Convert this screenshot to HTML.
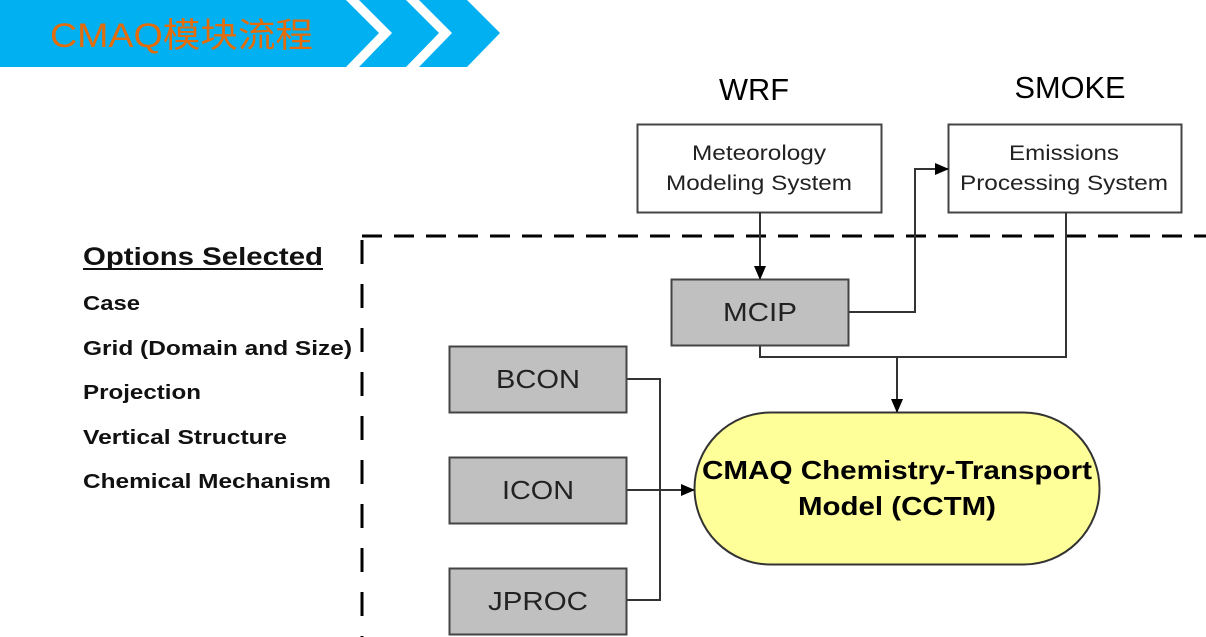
<!DOCTYPE html>
<html><head><meta charset="utf-8"><style>
body{margin:0;width:1206px;height:637px;background:#fff;overflow:hidden}
svg{display:block}
text{font-family:"Liberation Sans",Arial,sans-serif}
.cjk{font-family:"Liberation Sans","Noto Sans CJK SC",sans-serif}
</style></head><body>
<svg width="1206" height="637" viewBox="0 0 1206 637" xmlns="http://www.w3.org/2000/svg">
<defs><marker id="a" markerWidth="14" markerHeight="12" refX="13" refY="6" orient="auto" markerUnits="userSpaceOnUse"><path d="M0,0 L14,6 L0,12 Z" fill="#000"/></marker></defs>
<polygon points="0,0 346,0 379,33 346,67 0,67" fill="#00b0f0"/>
<polygon points="359,0 406,0 439,33 406,67 359,67 392,33" fill="#00b0f0"/>
<polygon points="419,0 467,0 500,33 467,67 419,67 452,33" fill="#00b0f0"/>
<text class="cjk" x="50" y="47" font-size="34" fill="#e46c0a" textLength="263" lengthAdjust="spacingAndGlyphs">CMAQ模块流程</text>
<text x="754" y="100" font-size="31" text-anchor="middle" textLength="70" lengthAdjust="spacingAndGlyphs">WRF</text>
<text x="1070" y="98" font-size="31" text-anchor="middle" textLength="111" lengthAdjust="spacingAndGlyphs">SMOKE</text>
<rect x="637.5" y="124.5" width="244" height="88" fill="#fff" stroke="#444" stroke-width="2"/>
<text x="759" y="160" font-size="21" text-anchor="middle" fill="#222" textLength="134" lengthAdjust="spacingAndGlyphs">Meteorology</text>
<text x="759" y="190" font-size="21" text-anchor="middle" fill="#222" textLength="186" lengthAdjust="spacingAndGlyphs">Modeling System</text>
<rect x="948.5" y="124.5" width="233" height="88" fill="#fff" stroke="#444" stroke-width="2"/>
<text x="1064" y="160" font-size="21" text-anchor="middle" fill="#222" textLength="110" lengthAdjust="spacingAndGlyphs">Emissions</text>
<text x="1064" y="190" font-size="21" text-anchor="middle" fill="#222" textLength="208" lengthAdjust="spacingAndGlyphs">Processing System</text>
<line x1="362" y1="236" x2="1206" y2="236" stroke="#000" stroke-width="3" stroke-dasharray="20,12"/>
<line x1="362" y1="240" x2="362" y2="637" stroke="#000" stroke-width="3" stroke-dasharray="24,20"/>
<g fill="none" stroke="#333" stroke-width="2">
<line x1="760" y1="212" x2="760" y2="279" marker-end="url(#a)"/>
<polyline points="849,312 915,312 915,169 948,169" marker-end="url(#a)"/>
<polyline points="760,346 760,357 1066,357 1066,212"/>
<line x1="897" y1="357" x2="897" y2="412" marker-end="url(#a)"/>
<polyline points="627,379 660,379 660,600 627,600"/>
<line x1="627" y1="490" x2="694" y2="490" marker-end="url(#a)"/>
</g>
<rect x="671.5" y="279.5" width="177" height="66" fill="#c0c0c0" stroke="#444" stroke-width="2"/>
<text x="760" y="321" font-size="26" text-anchor="middle" fill="#222" textLength="74" lengthAdjust="spacingAndGlyphs">MCIP</text>
<rect x="449.5" y="346.5" width="177" height="66" fill="#c0c0c0" stroke="#444" stroke-width="2"/>
<text x="538" y="388" font-size="26" text-anchor="middle" fill="#222" textLength="84" lengthAdjust="spacingAndGlyphs">BCON</text>
<rect x="449.5" y="457.5" width="177" height="66" fill="#c0c0c0" stroke="#444" stroke-width="2"/>
<text x="538" y="499" font-size="26" text-anchor="middle" fill="#222" textLength="72" lengthAdjust="spacingAndGlyphs">ICON</text>
<rect x="449.5" y="568.5" width="177" height="66" fill="#c0c0c0" stroke="#444" stroke-width="2"/>
<text x="538" y="610" font-size="26" text-anchor="middle" fill="#222" textLength="100" lengthAdjust="spacingAndGlyphs">JPROC</text>
<rect x="694.5" y="412.5" width="405" height="152" rx="76" fill="#ffff99" stroke="#333" stroke-width="2"/>
<text x="897" y="479" font-size="26" font-weight="bold" text-anchor="middle" textLength="390" lengthAdjust="spacingAndGlyphs">CMAQ Chemistry-Transport</text>
<text x="897" y="515" font-size="26" font-weight="bold" text-anchor="middle" textLength="198" lengthAdjust="spacingAndGlyphs">Model (CCTM)</text>
<text x="83" y="265" font-size="25" font-weight="bold" fill="#111" textLength="240" lengthAdjust="spacingAndGlyphs">Options Selected</text>
<line x1="83" y1="269" x2="323" y2="269" stroke="#111" stroke-width="2"/>
<g font-size="20" font-weight="bold" fill="#111">
<text x="83" y="310" textLength="57" lengthAdjust="spacingAndGlyphs">Case</text>
<text x="83" y="355" textLength="269" lengthAdjust="spacingAndGlyphs">Grid (Domain and Size)</text>
<text x="83" y="399" textLength="118" lengthAdjust="spacingAndGlyphs">Projection</text>
<text x="83" y="444" textLength="204" lengthAdjust="spacingAndGlyphs">Vertical Structure</text>
<text x="83" y="488" textLength="248" lengthAdjust="spacingAndGlyphs">Chemical Mechanism</text>
</g>
</svg>
</body></html>
